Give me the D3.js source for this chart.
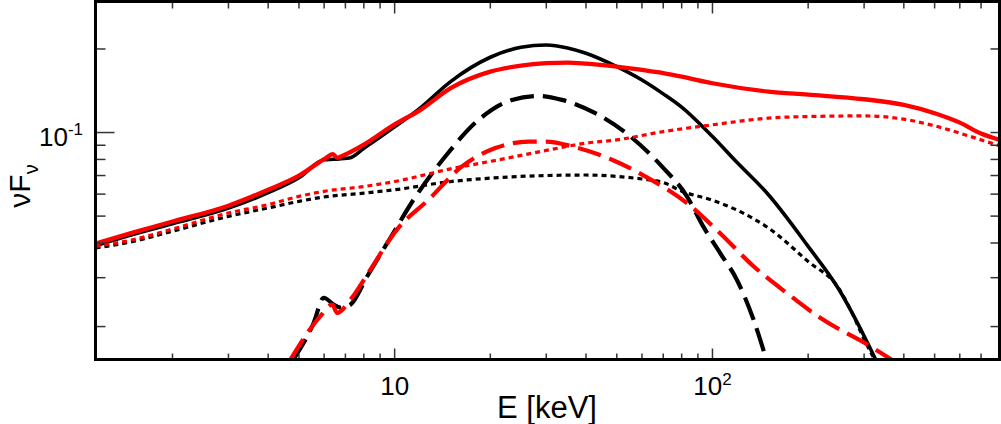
<!DOCTYPE html>
<html>
<head>
<meta charset="utf-8">
<script src="https://cdn.jsdelivr.net/npm/d3@7"></script>
<style>
  body { margin: 0; background: #fff; }
  svg text { font-family: "Liberation Sans", Arial, sans-serif; fill: #000; }
</style>
</head>
<body>
<div id="spec_div"></div>
<script>
// total model A (black solid)
var totA_E = [1.145, 1.5, 2, 3, 4, 5, 6, 6.4, 7.2, 8, 10, 12, 15, 20, 25, 30, 35, 40, 50, 60, 70, 80, 100, 120, 150, 200, 250, 300, 330];
var totA_F = [0.0391, 0.0429, 0.0469, 0.0534, 0.0607, 0.0687, 0.0798, 0.0801, 0.0809, 0.0877, 0.1048, 0.1222, 0.1526, 0.1867, 0.2028, 0.2067, 0.2017, 0.1930, 0.1727, 0.1546, 0.1378, 0.1234, 0.0967, 0.0776, 0.0597, 0.0389, 0.0272, 0.0185, 0.0148];

// total model B (red solid)
var totB_E = [1.145, 1.5, 2, 3, 4, 5, 6, 6.4, 6.6, 7, 8, 10, 12, 15, 20, 25, 30, 35, 40, 50, 60, 70, 80, 100, 150, 200, 300, 400, 500, 600, 700, 800];
var totB_F = [0.0398, 0.0436, 0.0478, 0.0545, 0.0622, 0.0699, 0.0802, 0.0836, 0.0811, 0.0834, 0.0905, 0.1070, 0.1202, 0.1445, 0.1657, 0.1742, 0.1777, 0.1786, 0.1771, 0.1727, 0.1680, 0.1636, 0.1590, 0.1505, 0.1405, 0.1370, 0.1318, 0.1258, 0.1174, 0.1086, 0.0992, 0.0941];

// bump component A (black dashed)
var bumpA_E = [4.8, 5.56, 5.98, 6.43, 6.75, 7.26, 8.19, 9.69, 11.47, 14.43, 18.37, 23.39, 28.37, 33.6, 42.8, 54.4, 69.3, 83.1, 93.5, 105.7, 119.3, 134.6, 148.3];
var bumpA_F = [0.0152, 0.0206, 0.0254, 0.0240, 0.0234, 0.0240, 0.0303, 0.0417, 0.0573, 0.0820, 0.1111, 0.1311, 0.1355, 0.1311, 0.1174, 0.0981, 0.0755, 0.0589, 0.0459, 0.0368, 0.0295, 0.0212, 0.0150];

// bump component B (red dashed)
var bumpB_E = [4.7, 5.84, 6.36, 6.59, 7.26, 8.39, 10.17, 12.79, 16.29, 20.74, 26.39, 29.78, 37.8, 48.3, 61.4, 83.1, 105.7, 134.6, 171.4, 218.2, 313.3, 366.6];
var bumpB_F = [0.0152, 0.0218, 0.0240, 0.0224, 0.0250, 0.0321, 0.0447, 0.0573, 0.0755, 0.0879, 0.0928, 0.0928, 0.0879, 0.0798, 0.0695, 0.0557, 0.0434, 0.0330, 0.0264, 0.0215, 0.0170, 0.0152];

// continuum A (black dotted)
var contA_E = [1.145, 1.5, 2, 3, 4, 5, 6, 8, 10, 15, 20, 30, 40, 50, 60, 70, 80, 100, 120, 150, 200, 250, 270, 300, 330];
var contA_F = [0.0384, 0.0405, 0.0441, 0.0499, 0.0535, 0.0565, 0.0586, 0.0605, 0.0622, 0.0666, 0.0685, 0.0700, 0.0703, 0.0695, 0.0680, 0.0661, 0.0615, 0.0570, 0.0524, 0.0453, 0.0343, 0.0274, 0.0234, 0.0180, 0.0146];

// continuum B (red dotted)
var contB_E = [1.145, 1.5, 2, 3, 4, 5, 6, 8, 10, 15, 20, 30, 40, 50, 70, 100, 150, 200, 300, 400, 500, 600, 700, 800];
var contB_F = [0.0389, 0.0411, 0.0449, 0.0513, 0.0550, 0.0589, 0.0614, 0.0639, 0.0666, 0.0740, 0.0787, 0.0862, 0.0916, 0.0941, 0.1008, 0.1066, 0.1127, 0.1142, 0.1148, 0.1117, 0.1057, 0.0995, 0.0941, 0.0896];

// ticks
var xMajor = [10, 100];
var xMinor = [2, 3, 4, 5, 6, 7, 8, 9, 20, 30, 40, 50, 60, 70, 80, 90, 200, 300, 400, 500, 600, 700];
var yMajor = [0.1];
var yMinor = [0.02, 0.03, 0.04, 0.05, 0.06, 0.07, 0.08, 0.09, 0.2];

var width = 1001, height = 424;
var pl = 95.5, pr = 999.5, pt = 1.5, pb = 359.5;

var svg = d3.select("#spec_div")
    .append("svg")
    .attr("width", width)
    .attr("height", height);

var x = d3.scaleLog().domain([1.145, 800]).range([pl, pr]);
var y = d3.scaleLog().domain([0.01522, 0.2965]).range([pb, pt]);

svg.append("clipPath").attr("id", "plotclip")
    .append("rect")
    .attr("x", pl).attr("y", pt)
    .attr("width", pr - pl).attr("height", pb - pt);

function zip(es, fs) { return es.map((e, i) => [e, fs[i]]); }

var line = d3.line()
    .x(d => x(d[0]))
    .y(d => y(d[1]))
    .curve(d3.curveMonotoneX);

var series = [
    {pts: zip(contA_E, contA_F), color: "#000", w: 3.2, dash: "5,4"},
    {pts: zip(bumpA_E, bumpA_F), color: "#000", w: 4.2, dash: "24,9"},
    {pts: zip(totA_E, totA_F), color: "#000", w: 3.6, dash: null},
    {pts: zip(contB_E, contB_F), color: "#ff0000", w: 3.2, dash: "5,4"},
    {pts: zip(bumpB_E, bumpB_F), color: "#ff0000", w: 4.2, dash: "24,9"},
    {pts: zip(totB_E, totB_F), color: "#ff0000", w: 4.3, dash: null}
];

var g = svg.append("g").attr("clip-path", "url(#plotclip)");
g.selectAll("path")
    .data(series)
    .enter()
    .append("path")
    .attr("d", d => line(d.pts))
    .attr("fill", "none")
    .attr("stroke", d => d.color)
    .attr("stroke-width", d => d.w)
    .attr("stroke-dasharray", d => d.dash)
    .attr("stroke-linejoin", "round");

// tick marks, inward on all four sides
var ticks = svg.append("g").attr("stroke", "#333").attr("stroke-width", 1.5);

function xTicks(vals, lenB, lenT) {
    vals.forEach(function (v) {
	ticks.append("line").attr("x1", x(v)).attr("x2", x(v))
	    .attr("y1", pb).attr("y2", pb - lenB);
	ticks.append("line").attr("x1", x(v)).attr("x2", x(v))
	    .attr("y1", pt).attr("y2", pt + lenT);
    });
}
function yTicks(vals, lenL, lenR) {
    vals.forEach(function (v) {
	ticks.append("line").attr("y1", y(v)).attr("y2", y(v))
	    .attr("x1", pl).attr("x2", pl + lenL);
	ticks.append("line").attr("y1", y(v)).attr("y2", y(v))
	    .attr("x1", pr).attr("x2", pr - lenR);
    });
}
xTicks(xMajor, 11, 12);
xTicks(xMinor, 6, 7);
yTicks(yMajor, 19, 9);
yTicks(yMinor, 10, 9);

// frame
svg.append("rect")
    .attr("x", pl).attr("y", pt)
    .attr("width", pr - pl).attr("height", pb - pt)
    .attr("fill", "none")
    .attr("stroke", "#000")
    .attr("stroke-width", 3);

// tick labels
svg.append("text")
    .attr("x", x(10)).attr("y", 395)
    .attr("text-anchor", "middle")
    .style("font-size", "26px")
    .text("10");

var t100 = svg.append("text")
    .attr("x", x(100)).attr("y", 395)
    .attr("text-anchor", "middle")
    .style("font-size", "26px");
t100.append("tspan").text("10");
t100.append("tspan").style("font-size", "17px").attr("dy", -10).text("2");

var t01 = svg.append("text")
    .attr("x", 83).attr("y", 146)
    .attr("text-anchor", "end")
    .style("font-size", "26px");
t01.append("tspan").text("10");
t01.append("tspan").style("font-size", "17px").attr("dy", -11).text("-1");

// axis titles
svg.append("text")
    .attr("x", 547).attr("y", 418)
    .attr("text-anchor", "middle")
    .style("font-size", "31px")
    .text("E [keV]");

var yl = svg.append("text")
    .attr("transform", "translate(30,186) rotate(-90)")
    .attr("text-anchor", "middle")
    .style("font-size", "30px");
yl.append("tspan").text("νF");
yl.append("tspan").style("font-size", "20px").attr("dy", 8).text("ν");
</script>
</body>
</html>
